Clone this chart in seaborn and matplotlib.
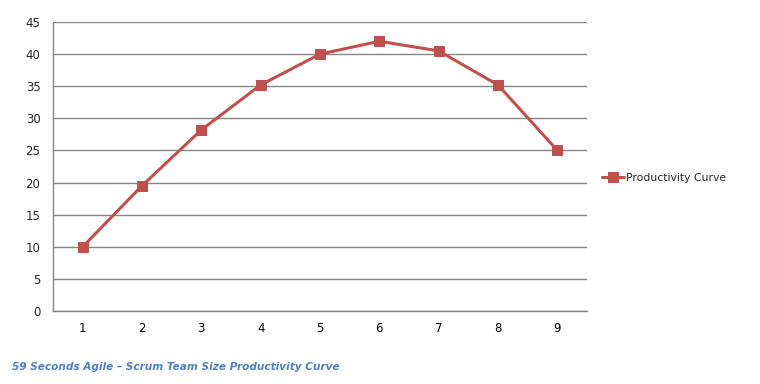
import matplotlib
matplotlib.use('Agg')
import matplotlib.pyplot as plt
import numpy as np
import pandas as pd
import seaborn as sns

# Team size vs productivity
team_size = [1, 2, 3, 4, 5, 6, 7, 8, 9]
productivity = [10, 19.5, 28.2, 35.2, 40, 42, 40.5, 35.2, 25]
y_ticks = [0, 5, 10, 15, 20, 25, 30, 35, 40, 45]

df = pd.DataFrame({'team_size': team_size, 'productivity': productivity})

sns.set_style('white')
plt.rcParams['font.family'] = ['DejaVu Sans']

line_color = '#C0504D'
grid_color = '#868686'

fig = plt.figure(figsize=(7.6, 3.84), dpi=100)
ax = fig.add_axes([53 / 760, 1 - 311 / 384, (587 - 53) / 760, (311 - 22) / 384])

sns.lineplot(data=df, x='team_size', y='productivity', ax=ax, color=line_color,
             linewidth=2.2, marker='s', markersize=7, markeredgecolor=line_color,
             label='Productivity Curve')

ax.set_xlim(team_size[0] - 0.5, team_size[-1] + 0.5)
ax.set_ylim(y_ticks[0], y_ticks[-1])

# category-style axis: tick marks on boundaries, labels at centres
bounds = np.arange(team_size[0] - 0.5, team_size[-1] + 1)
ax.set_xticks(bounds)
ax.set_xticklabels([])
ax.set_xticks(team_size, minor=True)
ax.set_xticklabels([str(t) for t in team_size], minor=True)
ax.tick_params(axis='x', which='major', length=5, color=grid_color, direction='out')
ax.tick_params(axis='x', which='minor', length=0, pad=8, labelsize=8.5, colors='black')

ax.set_yticks(y_ticks)
ax.tick_params(axis='y', length=5, color=grid_color, direction='out', labelsize=8.5, pad=4)

ax.yaxis.grid(True, color=grid_color, linewidth=1)
ax.set_axisbelow(True)
for side in ['top', 'right']:
    ax.spines[side].set_visible(False)
for side in ['left', 'bottom']:
    ax.spines[side].set_color(grid_color)
    ax.spines[side].set_linewidth(1)

ax.set_xlabel('')
ax.set_ylabel('')

ax.legend(loc='center left', bbox_to_anchor=(1.01, 0.46), frameon=False,
          fontsize=7.8, handlelength=2, handletextpad=0.2)

fig.text(12 / 760, 1 - 367 / 384, '59 Seconds Agile \u2013 Scrum Team Size Productivity Curve',
         fontsize=7.6, fontstyle='italic', fontweight='bold', color='#4F81BD', va='center')

fig.savefig('out.png', dpi=100)
